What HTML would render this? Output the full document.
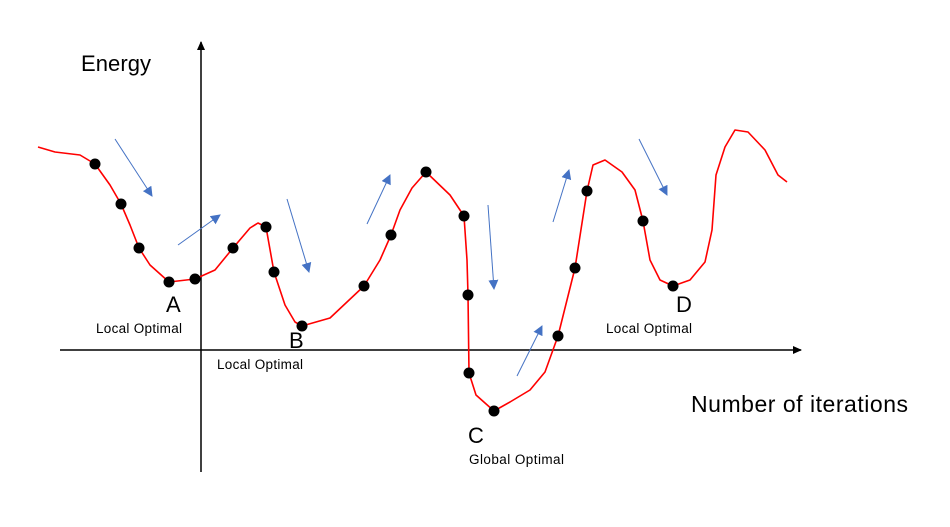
<!DOCTYPE html>
<html><head><style>body{margin:0;background:#fff}svg{display:block}text{font-family:"Liberation Sans",sans-serif;fill:#000}</style></head><body>
<svg width="950" height="527" viewBox="0 0 950 527">
<defs>
<marker id="k" markerWidth="10" markerHeight="10" refX="8" refY="5" orient="auto" markerUnits="userSpaceOnUse"><path d="M0,1 L9,5 L0,9z" fill="#000"/></marker>
<marker id="b" markerWidth="12" markerHeight="12" refX="9" refY="5" orient="auto" markerUnits="userSpaceOnUse"><path d="M0,0 L10,5 L0,10z" fill="#4472C4"/></marker>
</defs>
<line x1="201" y1="472" x2="201" y2="42" stroke="#000" stroke-width="1.5" marker-end="url(#k)"/>
<line x1="60" y1="350" x2="801" y2="350" stroke="#000" stroke-width="1.5" marker-end="url(#k)"/>
<polyline fill="none" stroke="#f00" stroke-width="1.6" stroke-linejoin="round" points="38,147 55,152 80,155 95,164 110,185 121,204 130,225 139,248 150,265 169,282 195,279 215,270 233,248 250,228 258,223 266,227 274,272 285,305 295,322 302,326 330,318 364,286 380,260 391,235 400,210 412,188 426,172 450,195 464,216 467,260 468,295 469,373 476,395 494,411 510,402 530,390 545,372 558,336 575,268 587,191 593,165 605,160 622,172 635,190 643,221 650,260 660,280 673,286 690,280 705,262 712,230 716,175 725,147 735,130 748,132 765,150 778,175 787,182"/>
<g fill="#000">
<circle cx="95" cy="164" r="5.5"/><circle cx="121" cy="204" r="5.5"/><circle cx="139" cy="248" r="5.5"/><circle cx="169" cy="282" r="5.5"/><circle cx="195" cy="279" r="5.5"/><circle cx="233" cy="248" r="5.5"/><circle cx="266" cy="227" r="5.5"/><circle cx="274" cy="272" r="5.5"/><circle cx="302" cy="326" r="5.5"/><circle cx="364" cy="286" r="5.5"/><circle cx="391" cy="235" r="5.5"/><circle cx="426" cy="172" r="5.5"/><circle cx="464" cy="216" r="5.5"/><circle cx="468" cy="295" r="5.5"/><circle cx="469" cy="373" r="5.5"/><circle cx="494" cy="411" r="5.5"/><circle cx="558" cy="336" r="5.5"/><circle cx="575" cy="268" r="5.5"/><circle cx="587" cy="191" r="5.5"/><circle cx="643" cy="221" r="5.5"/><circle cx="673" cy="286" r="5.5"/>
</g>
<g stroke="#4472C4" stroke-width="1" marker-end="url(#b)">
<line x1="115" y1="139" x2="152" y2="196"/><line x1="178" y1="245" x2="220" y2="215"/><line x1="287" y1="199" x2="309" y2="272"/><line x1="367" y1="224" x2="390" y2="175"/><line x1="488" y1="205" x2="494" y2="289"/><line x1="517" y1="376" x2="542" y2="326"/><line x1="553" y1="222" x2="569" y2="170"/><line x1="639" y1="139" x2="667" y2="195"/>
</g>
<text x="81" y="71" font-size="22" textLength="70">Energy</text>
<text x="691" y="412" font-size="23" textLength="217">Number of iterations</text>
<text x="166" y="312" font-size="22">A</text>
<text x="289" y="348" font-size="22">B</text>
<text x="468" y="443" font-size="22">C</text>
<text x="676" y="312" font-size="22">D</text>
<text x="96" y="333" font-size="13.5" textLength="86">Local Optimal</text>
<text x="217" y="369" font-size="13.5" textLength="86">Local Optimal</text>
<text x="606" y="333" font-size="13.5" textLength="86">Local Optimal</text>
<text x="469" y="464" font-size="13.5" textLength="95">Global Optimal</text>
</svg>
</body></html>
